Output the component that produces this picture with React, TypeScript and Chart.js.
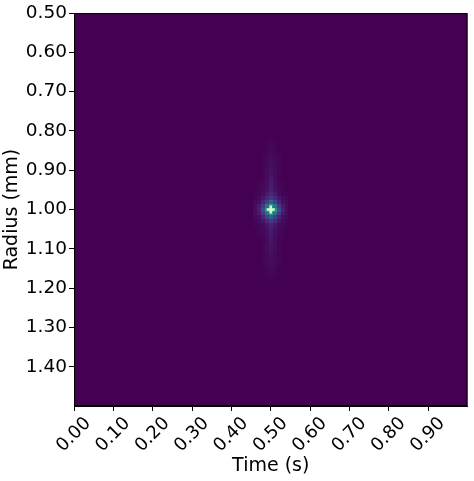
import React, { useEffect, useRef } from "react";
import { Chart, registerables } from "chart.js";

Chart.register(...registerables);

// ---- data ----
const xTickValues = [0, 0.1, 0.2, 0.3, 0.4, 0.5, 0.6, 0.7, 0.8, 0.9];
const yTickValues = [0.5, 0.6, 0.7, 0.8, 0.9, 1.0, 1.1, 1.2, 1.3, 1.4];
const timeRange = [0, 1];
const radiusRange = [0.5, 1.5];
const backgroundLevel = 0; // colormap level of the whole field away from the spot

// cell centres of the region around the spot
const spotTimes = [0.46, 0.47, 0.48, 0.49, 0.5, 0.51, 0.52, 0.53, 0.54];
const spotRadii = [
  0.82, 0.83, 0.84, 0.85, 0.86, 0.87, 0.88, 0.89, 0.9, 0.91, 0.92, 0.93, 0.94,
  0.95, 0.96, 0.97, 0.98, 0.99, 1.0, 1.01, 1.02, 1.03, 1.04, 1.05, 1.06, 1.07,
  1.08, 1.09, 1.1, 1.11, 1.12, 1.13, 1.14, 1.15, 1.16, 1.17, 1.18,
];
// colormap level (percent) of each cell: rows = spotRadii, columns = spotTimes
const spotLevels = [
  [0, 0, 0, 0, 1, 0, 0, 0, 0],
  [0, 0, 0, 1, 1, 1, 0, 0, 0],
  [0, 0, 0, 1, 2, 1, 0, 0, 0],
  [0, 0, 0, 1, 2, 1, 0, 0, 0],
  [0, 0, 1, 1, 3, 1, 1, 0, 0],
  [0, 0, 1, 2, 3, 2, 1, 0, 0],
  [0, 0, 1, 2, 4, 2, 1, 0, 0],
  [0, 0, 1, 2, 4, 2, 1, 0, 0],
  [0, 0, 1, 3, 5, 3, 1, 0, 0],
  [0, 0, 1, 3, 5, 3, 1, 0, 0],
  [0, 0, 1, 3, 6, 3, 1, 0, 0],
  [0, 1, 1, 4, 7, 4, 1, 1, 0],
  [0, 1, 2, 4, 8, 4, 2, 1, 0],
  [0, 1, 2, 5, 9, 5, 2, 1, 0],
  [1, 1, 3, 7, 11, 7, 3, 1, 1],
  [1, 3, 6, 11, 17, 11, 6, 3, 1],
  [2, 4, 10, 20, 30, 20, 10, 4, 2],
  [3, 7, 18, 36, 55, 36, 18, 7, 3],
  [3, 9, 24, 52, 75, 52, 24, 9, 3],
  [3, 7, 18, 36, 55, 36, 18, 7, 3],
  [2, 4, 10, 20, 30, 20, 10, 4, 2],
  [1, 3, 6, 11, 17, 11, 6, 3, 1],
  [1, 1, 3, 6, 10, 6, 3, 1, 1],
  [0, 1, 2, 5, 8, 5, 2, 1, 0],
  [0, 1, 2, 4, 7, 4, 2, 1, 0],
  [0, 1, 1, 4, 6, 4, 1, 1, 0],
  [0, 0, 1, 3, 6, 3, 1, 0, 0],
  [0, 0, 1, 3, 5, 3, 1, 0, 0],
  [0, 0, 1, 3, 5, 3, 1, 0, 0],
  [0, 0, 1, 2, 4, 2, 1, 0, 0],
  [0, 0, 1, 2, 4, 2, 1, 0, 0],
  [0, 0, 1, 2, 3, 2, 1, 0, 0],
  [0, 0, 0, 2, 3, 2, 0, 0, 0],
  [0, 0, 0, 1, 2, 1, 0, 0, 0],
  [0, 0, 0, 1, 2, 1, 0, 0, 0],
  [0, 0, 0, 1, 1, 1, 0, 0, 0],
  [0, 0, 0, 0, 1, 0, 0, 0, 0],
];
const markerTimes = [0.5];
const markerRadii = [1.0];

// ---- styling ----
const viridisStops = [
  "#440154", "#482878", "#3e4989", "#31688e", "#26828e",
  "#1f9e89", "#35b779", "#6ece58", "#b5de2b", "#fde725",
];
const FONT = "DejaVu Sans";

function hexToRgb(h: string) {
  return [parseInt(h.slice(1, 3), 16), parseInt(h.slice(3, 5), 16), parseInt(h.slice(5, 7), 16)];
}
function viridis(v: number) {
  const t = Math.max(0, Math.min(1, v)) * (viridisStops.length - 1);
  const i = Math.min(viridisStops.length - 2, Math.floor(t));
  const f = t - i;
  const a = hexToRgb(viridisStops[i]);
  const b = hexToRgb(viridisStops[i + 1]);
  const c = a.map((av, k) => Math.round(av + (b[k] - av) * f));
  return `rgb(${c[0]},${c[1]},${c[2]})`;
}

const heatmapPlugin = {
  id: "heatmap",
  beforeDatasetsDraw(chart: any) {
    const { ctx, chartArea: a, scales } = chart;
    const xs = scales.x;
    const ys = scales.y;
    ctx.save();
    ctx.fillStyle = viridis(backgroundLevel);
    ctx.fillRect(a.left, a.top, a.right - a.left, a.bottom - a.top);
    const dt = spotTimes[1] - spotTimes[0];
    const dr = spotRadii[1] - spotRadii[0];
    spotRadii.forEach((r, i) => {
      spotTimes.forEach((t, j) => {
        const v = spotLevels[i][j] / 100;
        const x0 = Math.round(xs.getPixelForValue(t - dt / 2));
        const x1 = Math.round(xs.getPixelForValue(t + dt / 2));
        const y0 = Math.round(ys.getPixelForValue(r - dr / 2));
        const y1 = Math.round(ys.getPixelForValue(r + dr / 2));
        ctx.fillStyle = viridis(v);
        ctx.fillRect(Math.min(x0, x1), Math.min(y0, y1), Math.abs(x1 - x0), Math.abs(y1 - y0));
      });
    });
    ctx.strokeStyle = "#000";
    ctx.lineWidth = 1;
    ctx.strokeRect(a.left + 0.5, a.top + 0.5, a.right - a.left - 1, a.bottom - a.top - 1);
    ctx.restore();
  },
};

export default function App() {
  const ref = useRef<HTMLCanvasElement | null>(null);
  useEffect(() => {
    if (!ref.current) return;
    const chart = new Chart(ref.current, {
      type: "scatter",
      data: {
        datasets: [
          {
            data: markerTimes.map((t, i) => ({ x: t, y: markerRadii[i] })),
            pointStyle: "cross",
            radius: 4,
            borderColor: "#d0f7c8",
            backgroundColor: "#d0f7c8",
            borderWidth: 2.5,
          },
        ],
      },
      options: {
        animation: false,
        responsive: false,
        maintainAspectRatio: false,
        devicePixelRatio: 1,
        events: [],
        layout: { padding: { top: 11, right: 4, left: 0, bottom: 0 } },
        plugins: { legend: { display: false }, tooltip: { enabled: false } },
        scales: {
          x: {
            type: "linear",
            position: "bottom",
            min: timeRange[0],
            max: timeRange[1],
            afterBuildTicks: (s: any) => {
              s.ticks = xTickValues.map((v) => ({ value: v }));
            },
            afterFit: (s: any) => {
              s.height = 75;
              s.paddingRight = 0;
              s.paddingLeft = 0;
            },
            ticks: {
              autoSkip: false,
              callback: (v: any) => Number(v).toFixed(2),
              minRotation: 45,
              maxRotation: 45,
              labelOffset: 14,
              padding: 2,
              color: "#000",
              font: { family: FONT, size: 18 },
            },
            grid: { display: true, drawOnChartArea: false, drawTicks: true, tickLength: 5, color: "#000" },
            border: { display: true, color: "#000" },
            title: { display: true, text: "Time (s)", color: "#000", font: { family: FONT, size: 19 }, padding: 4 },
          },
          y: {
            type: "linear",
            reverse: true,
            min: radiusRange[0],
            max: radiusRange[1],
            afterBuildTicks: (s: any) => {
              s.ticks = yTickValues.map((v) => ({ value: v }));
            },
            afterFit: (s: any) => {
              s.width = 74;
            },
            ticks: {
              autoSkip: false,
              callback: (v: any) => Number(v).toFixed(2),
              padding: 2,
              color: "#000",
              font: { family: FONT, size: 18.5 },
            },
            grid: { display: true, drawOnChartArea: false, drawTicks: true, tickLength: 5, color: "#000" },
            border: { display: true, color: "#000" },
            title: { display: true, text: "Radius (mm)", color: "#000", font: { family: FONT, size: 19 }, padding: 1 },
          },
        },
      },
      plugins: [heatmapPlugin],
    } as any);
    return () => chart.destroy();
  }, []);
  return (
    <div style={{ position: "fixed", left: 0, top: 0, width: 474, height: 481, background: "#fff" }}>
      <canvas ref={ref} width={474} height={481} style={{ width: 474, height: 481 }} />
    </div>
  );
}
